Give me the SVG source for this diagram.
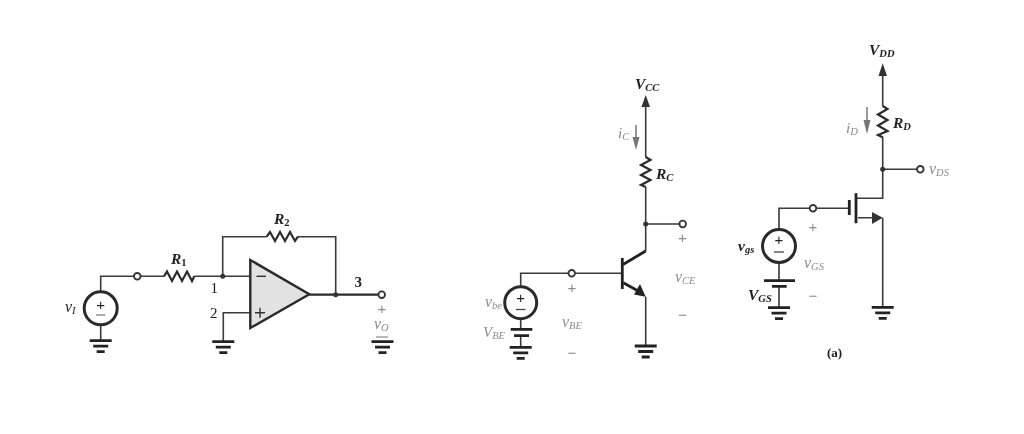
<svg xmlns="http://www.w3.org/2000/svg" width="1024" height="434" viewBox="0 0 1024 434">
<style>
.w{fill:none;stroke:#3a3a3a;stroke-width:1.6}
.o{fill:none;stroke:#2a2a2a;stroke-width:2.2}
.r{fill:none;stroke:#2a2a2a;stroke-width:2.2;stroke-linejoin:miter}
.g{fill:none;stroke:#222;stroke-width:2.8}
.b{fill:none;stroke:#222;stroke-width:2.8}
.src{fill:#fff;stroke:#2a2a2a;stroke-width:3}
.term{fill:#fff;stroke:#333;stroke-width:1.8}
.dot{fill:#333}
text{font-family:"Liberation Serif","Times New Roman",serif;fill:#222}
.i{font-style:italic;font-size:15px}
.bi{font-style:italic;font-weight:bold;font-size:15.500px}
.n{font-size:15px}
.nb{font-size:15px;font-weight:bold}
.gy{fill:#8c8c8c}
.s{font-size:10.500px}
.u{font-size:10.500px;font-style:normal}
.pm{font-family:"Liberation Sans",sans-serif;font-size:15px;text-anchor:middle}
</style>
<defs>
<g id="gnd" class="g"><path d="M-11 0H11M-7.500 5.500H7.500M-4 11H4"/></g>
<filter id="soft" x="0" y="0" width="100%" height="100%"><feGaussianBlur stdDeviation="0.35"/></filter>
</defs>
<rect width="1024" height="434" fill="#fff"/>
<g filter="url(#soft)">
<g id="connectors">
<path class="w" d="M100.700 292V276.300H134M140.600 276.300H164M194.300 276.300H250.300M222.700 276.300V236.700H266.700M298 236.700H335.700V294.700M250.300 312.700H223.300V341M100.700 325V340"/>
<path class="o" d="M309.300 294.700H378.500"/>
<path class="w" d="M645.700 105V157M645.700 187V251M645.700 224H679.500M520.700 287V273.300H568.500M574.900 273.300H622.300M645.700 296.700V345M520.700 319V329M520.700 336V347"/>
<path class="w" d="M882.700 75V106M882.700 137V198.300H856M882.700 169.300H917M779 229.500V208.300H809.800M816.200 208.300H849.300M882.700 217.700V307M779 262.500V280.700M779 286.300V307.700M858 217.700H872"/>
<path class="b" d="M623 264.500L645.700 251M623.300 282.700L640 292"/>
<path d="M645.700 296.700L634 294.500L640 284Z" fill="#222"/>
<path d="M645.700 95L641.500 107H650Z" fill="#333"/>
<path d="M882.700 63.300L878.500 76H887Z" fill="#333"/>
<path d="M882.700 217.700L872 212V224Z" fill="#333"/>
</g>
<g id="opamp-circuit">
<g id="opamp"><path d="M250.300 260V328L309.300 294.300Z" fill="#e2e2e2" stroke="#2a2a2a" stroke-width="2.400"/><path d="M256.500 276.300H266" stroke="#333" stroke-width="1.400"/><path d="M255 312.700H265M260 307.700V317.700" stroke="#333" stroke-width="1.400"/></g>
<g id="vi"><circle class="src" cx="100.700" cy="308.300" r="16.500"/><text class="pm" x="100.700" y="310">+</text><path d="M96 315H105.500" stroke="#777" stroke-width="1.200"/><use href="#gnd" x="100.700" y="340.700"/><text class="i" x="65" y="312"><tspan font-size="16">v</tspan><tspan class="s" dy="2">I</tspan></text></g>
<g id="in1"><circle class="term" cx="137.300" cy="276.300" r="3.300"/></g>
<g id="r1"><path class="r" d="M164 276.300L167 271.500L172 281L177 271.500L182 281L187 271.500L192 281L194.300 276.300"/><text class="bi" x="171" y="264">R<tspan class="u" dy="2">1</tspan></text></g>
<g id="r2"><path class="r" d="M266.700 236.700L270 232L275 241L280 232L285 241L290 232L295 241L298 236.700"/><text class="bi" x="274" y="224">R<tspan class="u" dy="2">2</tspan></text></g>
<g id="n1"><circle class="dot" cx="222.700" cy="276.300" r="2.500"/><text class="n" x="210.500" y="293">1</text></g>
<g id="n2"><text class="n" x="210" y="318">2</text><use href="#gnd" x="223.300" y="341.700"/></g>
<g id="n3"><circle class="dot" cx="335.700" cy="294.700" r="2.500"/><text class="nb" x="354.500" y="287">3</text></g>
<g id="vo"><circle class="term" cx="381.700" cy="294.700" r="3.300"/><text class="pm gy" x="382" y="314">+</text><text class="i gy" x="374" y="329"><tspan font-size="16">v</tspan><tspan class="s" dy="2">O</tspan></text><path d="M376 337H388" stroke="#999" stroke-width="1.400"/><use href="#gnd" x="382.500" y="341.700"/></g>
</g>
<g id="bjt-circuit">
<g id="vcc"><text class="bi" x="635" y="89">V<tspan class="s" dy="2">CC</tspan></text></g>
<g id="ic"><text class="i gy" x="618" y="138">i<tspan class="s" dy="2">C</tspan></text><path d="M636 125V144" stroke="#777" stroke-width="1.500"/><path d="M636 150L632.500 137H639.500Z" fill="#777"/></g>
<g id="rc"><path class="r" d="M645.700 157L650.500 160L641 165L650.500 170L641 175L650.500 180L641 185L645.700 187"/><text class="bi" x="656" y="179">R<tspan class="s" dy="2">C</tspan></text></g>
<g id="vc"><circle class="dot" cx="645.700" cy="224" r="2.500"/><circle class="term" cx="682.700" cy="224" r="3.300"/><text class="pm gy" x="682.500" y="243">+</text><text class="i gy" x="675" y="282"><tspan font-size="16">v</tspan><tspan class="s" dy="2">CE</tspan></text><text class="pm gy" x="682.500" y="320">−</text></g>
<g id="q1"><path d="M622.300 258V289" class="b"/></g>
<g id="vbe-src"><circle class="src" cx="520.700" cy="302.700" r="16"/><text class="pm" x="520.700" y="303">+</text><path d="M516 309.500H525.500" stroke="#444" stroke-width="1.300"/><text class="i gy" x="485" y="307"><tspan font-size="16">v</tspan><tspan class="s" dy="2">be</tspan></text><text class="i gy" x="483" y="337">V<tspan class="s" dy="2">BE</tspan></text><path class="g" d="M510.700 329.300H532.300M514 335.700H529"/><use href="#gnd" x="520.700" y="347.300"/></g>
<g id="vb"><circle class="term" cx="571.700" cy="273.300" r="3.300"/><text class="pm gy" x="572" y="293">+</text><text class="i gy" x="562" y="327"><tspan font-size="16">v</tspan><tspan class="s" dy="2">BE</tspan></text><text class="pm gy" x="572" y="358">−</text></g>
<g id="gnd-e"><use href="#gnd" x="645.700" y="346"/></g>
</g>
<g id="mos-circuit">
<g id="vdd"><text class="bi" x="869" y="55">V<tspan class="s" dy="2">DD</tspan></text></g>
<g id="id"><text class="i gy" x="846" y="133">i<tspan class="s" dy="2">D</tspan></text><path d="M867 107V127" stroke="#777" stroke-width="1.500"/><path d="M867 134L863.500 120H870.500Z" fill="#777"/></g>
<g id="rd"><path class="r" d="M882.700 106L887.500 109L878 114.500L887.500 120L878 125.500L887.500 131L878 135L882.700 137.300"/><text class="bi" x="893" y="128">R<tspan class="s" dy="2">D</tspan></text></g>
<g id="vd"><circle class="dot" cx="882.700" cy="169.300" r="2.500"/><circle class="term" cx="920.300" cy="169.300" r="3.300"/><text class="i gy" x="929" y="174"><tspan font-size="16">v</tspan><tspan class="s" dy="2">DS</tspan></text></g>
<g id="m1"><path class="b" d="M856 193.300V223.300M849.300 200V215"/></g>
<g id="vgs-src"><circle class="src" cx="779" cy="246" r="16.500"/><text class="pm" x="779" y="245">+</text><path d="M774 252H784" stroke="#444" stroke-width="1.300"/><text class="bi" x="738" y="251">v<tspan class="s" dy="2">gs</tspan></text><path class="g" d="M764 280.700H795M772 286.300H786.700"/><text class="bi" x="748" y="300">V<tspan class="s" dy="2">GS</tspan></text><use href="#gnd" x="779" y="307.700"/></g>
<g id="vg"><circle class="term" cx="813" cy="208.300" r="3.300"/><text class="pm gy" x="813" y="232">+</text><text class="i gy" x="804" y="268"><tspan font-size="16">v</tspan><tspan class="s" dy="2">GS</tspan></text><text class="pm gy" x="813" y="301">−</text></g>
<g id="gnd-s"><use href="#gnd" x="882.700" y="307.300"/></g>
<text id="caption" class="nb" x="827" y="357" style="font-size:13px">(a)</text>
</g>
</g>
</svg>
